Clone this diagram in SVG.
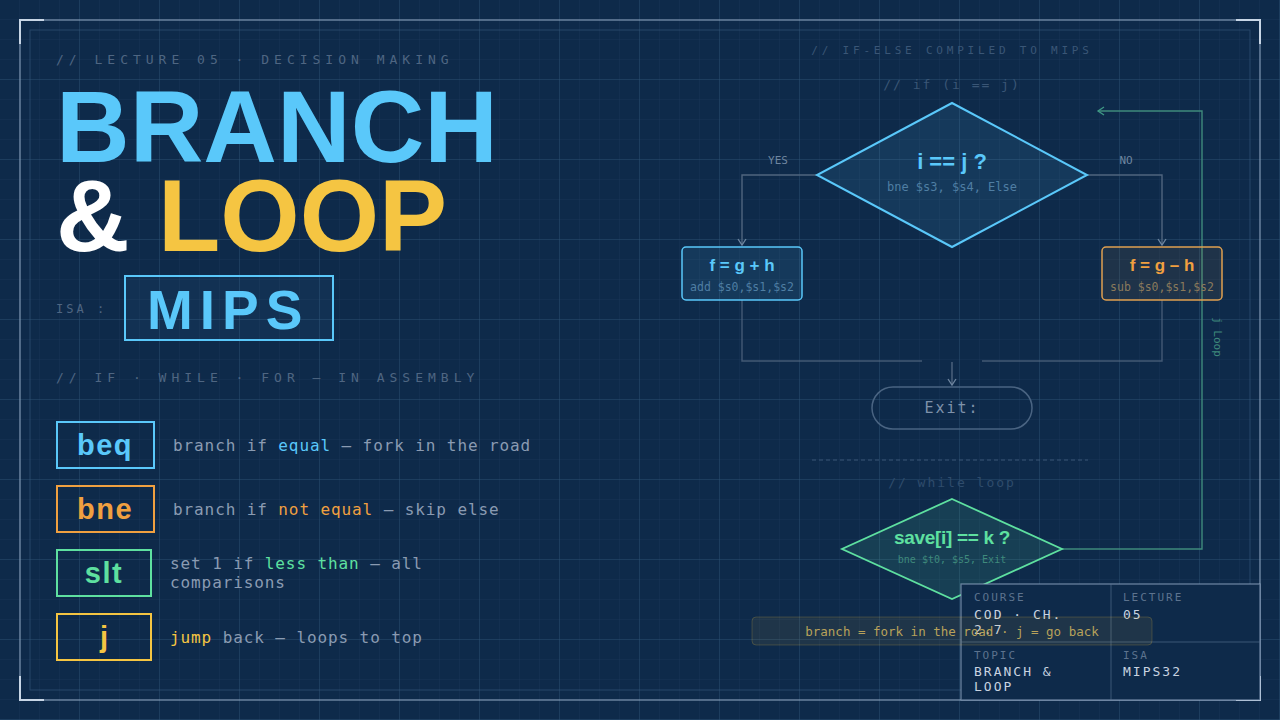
<svg xmlns="http://www.w3.org/2000/svg" width="1280" height="720" viewBox="0 0 1280 720">
<defs>
<pattern id="minor" width="20" height="20" patternUnits="userSpaceOnUse"><path d="M20 0V20H0" fill="none" stroke="#2a4a6e" stroke-opacity="0.3" stroke-width="1"/></pattern>
<pattern id="major" width="80" height="80" patternUnits="userSpaceOnUse"><path d="M80 0V80H0" fill="none" stroke="#2f5478" stroke-opacity="0.7" stroke-width="1"/></pattern>
<marker id="ag" markerWidth="10" markerHeight="10" refX="8" refY="5" orient="auto" markerUnits="userSpaceOnUse"><path d="M2 1L8 5L2 9" fill="none" stroke="#6f86a0" stroke-width="1.3"/></marker>
<marker id="agr" markerWidth="10" markerHeight="10" refX="8" refY="5" orient="auto" markerUnits="userSpaceOnUse"><path d="M2 1L8 5L2 9" fill="none" stroke="#3f9a86" stroke-width="1.3"/></marker>
</defs>
<style>
.mono{font-family:"DejaVu Sans Mono","Liberation Mono",monospace}
.sans{font-family:"Liberation Sans",Arial,sans-serif}
.cm{fill:#4f6682;font-size:13px;letter-spacing:5px}
.desc{fill:#8a9bb2;font-size:16px;letter-spacing:0.9px}
.lbl{fill:#5d738e;font-size:11px;letter-spacing:2px}
.val{fill:#c8d3e0;font-size:13px;letter-spacing:2px}
.conn{fill:none;stroke:#50657f;stroke-width:1.4}
</style>
<rect width="1280" height="720" fill="#0e2a4a"/>
<rect width="1280" height="720" fill="url(#minor)"/>
<rect width="1280" height="720" fill="url(#major)"/>
<rect x="20" y="20" width="1240" height="680" fill="none" stroke="#8ea5c0" stroke-opacity="0.7" stroke-width="1.5"/>
<rect x="30" y="30" width="1220" height="660" fill="none" stroke="#3b5a7e" stroke-opacity="0.6"/>
<path d="M20 44V20H44M1236 20H1260V44M1260 676V700H1236M44 700H20V676" fill="none" stroke="#c8d6e6" stroke-width="2"/>

<text x="56" y="64" class="mono cm">// LECTURE 05 · DECISION MAKING</text>
<text x="56" y="162" class="sans" font-size="102" font-weight="bold" fill="#5ac8fa">BRANCH</text>
<text x="56" y="251" class="sans" font-size="102" font-weight="bold"><tspan fill="#ffffff">&amp;</tspan><tspan fill="#f5c542"> LOOP</tspan></text>
<text x="56" y="313" class="mono" font-size="12" fill="#4f6682" letter-spacing="3">ISA :</text>
<g id="mips"><rect x="125" y="276" width="208" height="64" fill="#5ac8fa" fill-opacity="0.05" stroke="#5ac8fa" stroke-width="2"/>
<text x="147" y="329" class="sans" font-size="55" font-weight="bold" fill="#5ac8fa" letter-spacing="7">MIPS</text></g>
<text x="56" y="382" class="mono cm">// IF · WHILE · FOR — IN ASSEMBLY</text>

<g id="leg-beq"><rect x="57" y="422" width="97" height="46" fill="none" stroke="#5ac8fa" stroke-width="2"/><text x="105" y="455" text-anchor="middle" class="sans" font-size="29" font-weight="bold" fill="#5ac8fa" letter-spacing="1.5">beq</text>
<text x="173" y="451" class="mono desc">branch if <tspan fill="#5ac8fa">equal</tspan> — fork in the road</text></g>
<g id="leg-bne"><rect x="57" y="486" width="97" height="46" fill="none" stroke="#f0a040" stroke-width="2"/><text x="105" y="519" text-anchor="middle" class="sans" font-size="29" font-weight="bold" fill="#f0a040" letter-spacing="1.5">bne</text>
<text x="173" y="515" class="mono desc">branch if <tspan fill="#f0a040">not equal</tspan> — skip else</text></g>
<g id="leg-slt"><rect x="57" y="550" width="94" height="46" fill="none" stroke="#5ee0a0" stroke-width="2"/><text x="104" y="583" text-anchor="middle" class="sans" font-size="29" font-weight="bold" fill="#5ee0a0" letter-spacing="1.5">slt</text>
<text x="170" y="569" class="mono desc">set 1 if <tspan fill="#5ee0a0">less than</tspan> — all</text><text x="170" y="588" class="mono desc">comparisons</text></g>
<g id="leg-j"><rect x="57" y="614" width="94" height="46" fill="none" stroke="#f5c542" stroke-width="2"/><text x="104" y="647" text-anchor="middle" class="sans" font-size="29" font-weight="bold" fill="#f5c542">j</text>
<text x="170" y="643" class="mono desc"><tspan fill="#f5c542">jump</tspan> back — loops to top</text></g>

<text x="952" y="54" text-anchor="middle" class="mono" font-size="11" fill="#3a5676" letter-spacing="3.8">// IF-ELSE COMPILED TO MIPS</text>
<text x="952" y="89" text-anchor="middle" class="mono" font-size="13" fill="#3a5676" letter-spacing="2">// if (i == j)</text>

<g id="connectors">
<path class="conn" d="M817 175H742V245" marker-end="url(#ag)"/>
<path class="conn" d="M1087 175H1162V245" marker-end="url(#ag)"/>
<path class="conn" d="M742 300V361H922M1162 300V361H982" stroke-opacity="0.8"/>
<path class="conn" d="M952 362V385" marker-end="url(#ag)"/>
<path d="M1062 549H1202V111H1098" fill="none" stroke="#3f8a7c" stroke-width="1.4" marker-end="url(#agr)"/>
<path d="M812 460H1088" stroke="#3a5676" stroke-dasharray="4 3"/>
<text x="778" y="164" text-anchor="middle" class="mono" font-size="11" fill="#6f86a0">YES</text>
<text x="1126" y="164" text-anchor="middle" class="mono" font-size="11" fill="#6f86a0">NO</text>
<text transform="translate(1214,337) rotate(90)" text-anchor="middle" class="mono" font-size="11" fill="#3f8a7c">j Loop</text>
</g>

<g id="dec1"><polygon points="952,103 1087,175 952,247 817,175" fill="#5ac8fa" fill-opacity="0.1" stroke="#5ac8fa" stroke-width="2"/>
<text x="952" y="169" text-anchor="middle" class="sans" font-size="22" font-weight="bold" fill="#5ac8fa">i == j ?</text>
<text x="952" y="191" text-anchor="middle" class="mono" font-size="12" fill="#4f7ea3">bne $s3, $s4, Else</text></g>
<g id="add"><rect x="682" y="247" width="120" height="53" rx="4" fill="#5ac8fa" fill-opacity="0.1" stroke="#5ac8fa" stroke-width="1.5"/>
<text x="742" y="271" text-anchor="middle" class="sans" font-size="17" font-weight="bold" fill="#5ac8fa">f = g + h</text>
<text x="742" y="291" text-anchor="middle" class="mono" font-size="11.5" fill="#4f7ea3">add $s0,$s1,$s2</text></g>
<g id="sub"><rect x="1102" y="247" width="120" height="53" rx="4" fill="#f0a040" fill-opacity="0.08" stroke="#e0a050" stroke-width="1.5"/>
<text x="1162" y="271" text-anchor="middle" class="sans" font-size="17" font-weight="bold" fill="#f0a040">f = g – h</text>
<text x="1162" y="291" text-anchor="middle" class="mono" font-size="11.5" fill="#8a7a5c">sub $s0,$s1,$s2</text></g>
<g id="exit"><rect x="872" y="387" width="160" height="42" rx="21" fill="none" stroke="#4a6482" stroke-width="1.5"/>
<text x="952" y="413" text-anchor="middle" class="mono" font-size="15" fill="#7f92aa" letter-spacing="2">Exit:</text></g>
<text x="952" y="487" text-anchor="middle" class="mono" font-size="13" fill="#2f4c6c" letter-spacing="2">// while loop</text>
<g id="dec2"><polygon points="952,499 1062,549 952,599 842,549" fill="#5ee0a0" fill-opacity="0.12" stroke="#5ee0a0" stroke-width="1.8"/>
<text x="952" y="544" text-anchor="middle" class="sans" font-size="19" font-weight="bold" fill="#5ee0a0" letter-spacing="-0.3">save[i] == k ?</text>
<text x="952" y="563" text-anchor="middle" class="mono" font-size="10" fill="#3f8a7c">bne $t0, $s5, Exit</text></g>

<g id="info"><rect x="961" y="584" width="299" height="116" fill="#0e2a4a" stroke="#8ea5c0" stroke-opacity="0.7" stroke-width="1.3"/>
<path d="M1111 584V700M961 642H1260" stroke="#5a7594" stroke-opacity="0.6"/>
<text x="974" y="601" class="mono lbl">COURSE</text><text x="974" y="619" class="mono val">COD · CH.</text><text x="974" y="634" class="mono val">2.7</text>
<text x="1123" y="601" class="mono lbl">LECTURE</text><text x="1123" y="619" class="mono val">05</text>
<text x="974" y="659" class="mono lbl">TOPIC</text><text x="974" y="676" class="mono val">BRANCH &amp;</text><text x="974" y="691" class="mono val">LOOP</text>
<text x="1123" y="659" class="mono lbl">ISA</text><text x="1123" y="676" class="mono val">MIPS32</text></g>
<g id="banner"><rect x="752" y="617" width="400" height="28" rx="4" fill="#f5c542" fill-opacity="0.08" stroke="#f5c542" stroke-opacity="0.2"/>
<text x="952" y="636" text-anchor="middle" class="mono" font-size="12.5" fill="#b8a25a" letter-spacing="0">branch = fork in the road · j = go back</text></g>
</svg>
